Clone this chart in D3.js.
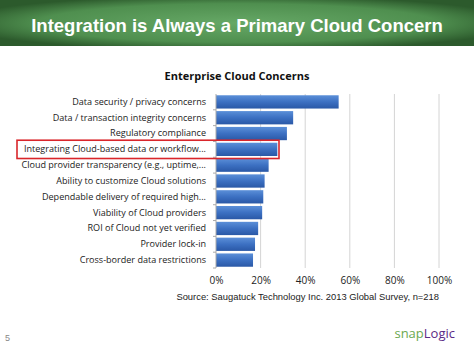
<!DOCTYPE html>
<html>
<head>
<meta charset="utf-8">
<script src="https://cdn.jsdelivr.net/npm/d3@7"></script>
<style>
  body { margin: 0; background: #fff; }
  svg { display: block; }
</style>
</head>
<body>
<svg width="474" height="355"></svg>
<script>
var categories = [
    "Data security / privacy concerns",
    "Data / transaction integrity concerns",
    "Regulatory compliance",
    "Integrating Cloud-based data or workflow...",
    "Cloud provider transparency (e.g., uptime,...",
    "Ability to customize Cloud solutions",
    "Dependable delivery of required high...",
    "Viability of Cloud providers",
    "ROI of Cloud not yet verified",
    "Provider lock-in",
    "Cross-border data restrictions"
]
var values = [55, 34.6, 31.8, 27.5, 23.6, 21.8, 21.2, 20.7, 18.9, 17.5, 16.6]
var ticks = [0, 20, 40, 60, 80, 100]
var highlighted = "Integrating Cloud-based data or workflow..."

function main() {
    var svg = d3.select("svg")
    var defs = svg.append("defs")

    // header band
    var rg = defs.append("radialGradient").attr("id", "hdr")
        .attr("cx", "50%").attr("cy", "50%").attr("r", "60%")
    rg.append("stop").attr("offset", "0%").attr("stop-color", "#66a866")
    rg.append("stop").attr("offset", "70%").attr("stop-color", "#4f8f4f")
    rg.append("stop").attr("offset", "100%").attr("stop-color", "#2c5a2c")
    svg.append("rect").attr("x", 0).attr("y", 0).attr("width", 474).attr("height", 46)
        .attr("fill", "url(#hdr)")
    svg.append("text")
        .attr("x", 237).attr("y", 32)
        .attr("text-anchor", "middle")
        .attr("font-family", "Liberation Sans, Arial, sans-serif")
        .attr("font-weight", "bold")
        .attr("font-size", "18.5px")
        .attr("fill", "#fff")
        .text("Integration is Always a Primary Cloud Concern")

    var bg = defs.append("linearGradient").attr("id", "bar")
        .attr("x1", 0).attr("y1", 0).attr("x2", 0).attr("y2", 1)
    bg.append("stop").attr("offset", "0%").attr("stop-color", "#5b8fd8")
    bg.append("stop").attr("offset", "50%").attr("stop-color", "#3c70c2")
    bg.append("stop").attr("offset", "100%").attr("stop-color", "#2a58a6")

    svg.append("text")
        .attr("x", 237).attr("y", 80)
        .attr("text-anchor", "middle")
        .attr("font-family", "Open Sans, sans-serif")
        .attr("font-weight", "bold")
        .attr("font-size", "11px")
        .attr("fill", "#111")
        .text("Enterprise Cloud Concerns")

    var x = d3.scaleLinear().domain([0, 100]).range([216, 439])
    var y = d3.scaleBand().domain(categories).range([94, 268]).paddingInner(0.16).paddingOuter(0.08)

    // gridlines
    svg.append("g").selectAll("line")
        .data(ticks.slice(1))
        .enter().append("line")
        .attr("x1", function(d) { return x(d) }).attr("x2", function(d) { return x(d) })
        .attr("y1", 94).attr("y2", 268)
        .attr("stroke", "#d4d4d4").attr("stroke-width", 1)

    // bars
    svg.append("g").selectAll("rect")
        .data(values)
        .enter().append("rect")
        .attr("x", x(0))
        .attr("y", function(d, i) { return y(categories[i]) })
        .attr("width", function(d) { return x(d) - x(0) })
        .attr("height", y.bandwidth())
        .attr("fill", "url(#bar)")

    // left axis
    var yAxis = svg.append("g")
        .attr("transform", "translate(" + x(0) + ",0)")
        .call(d3.axisLeft(y).tickSize(3).tickPadding(7))
    yAxis.select(".domain").attr("stroke", "#aaa").attr("d", "M0,94V268")
    yAxis.selectAll(".tick line").attr("stroke", "#aaa").attr("transform", "translate(0," + (y.step() / 2) + ")")
    yAxis.selectAll("text")
        .attr("font-family", "Open Sans, sans-serif")
        .attr("font-size", "9.05px")
        .attr("fill", "#222")

    // bottom axis labels
    var xAxis = svg.append("g")
        .attr("transform", "translate(0,268)")
        .call(d3.axisBottom(x).tickValues(ticks).tickSize(0).tickPadding(9)
            .tickFormat(function(d) { return d + "%" }))
    xAxis.select(".domain").remove()
    xAxis.selectAll("text")
        .attr("font-family", "Open Sans, sans-serif")
        .attr("font-size", "10px")
        .attr("fill", "#222")

    // highlight box
    svg.append("rect")
        .attr("x", 17).attr("y", y(highlighted) - 2.5)
        .attr("width", 262).attr("height", y.bandwidth() + 5)
        .attr("fill", "none").attr("stroke", "#d9262b").attr("stroke-width", 1.6)

    svg.append("text")
        .attr("x", 439).attr("y", 300)
        .attr("text-anchor", "end")
        .attr("font-family", "Liberation Sans, Arial, sans-serif")
        .attr("font-size", "9.4px")
        .attr("fill", "#222")
        .text("Source: Saugatuck Technology Inc. 2013 Global Survey, n=218")

    svg.append("text")
        .attr("x", 5).attr("y", 341)
        .attr("font-family", "Liberation Sans, Arial, sans-serif")
        .attr("font-size", "9px")
        .attr("fill", "#888")
        .text("5")

    var logo = svg.append("text")
        .attr("x", 455).attr("y", 338)
        .attr("text-anchor", "end")
        .attr("font-family", "Open Sans, sans-serif")
        .attr("font-size", "13px")
    logo.append("tspan").attr("fill", "#6aa84f").text("snap")
    logo.append("tspan").attr("fill", "#5b2a86").text("Logic")
}
main()
</script>
</body>
</html>
